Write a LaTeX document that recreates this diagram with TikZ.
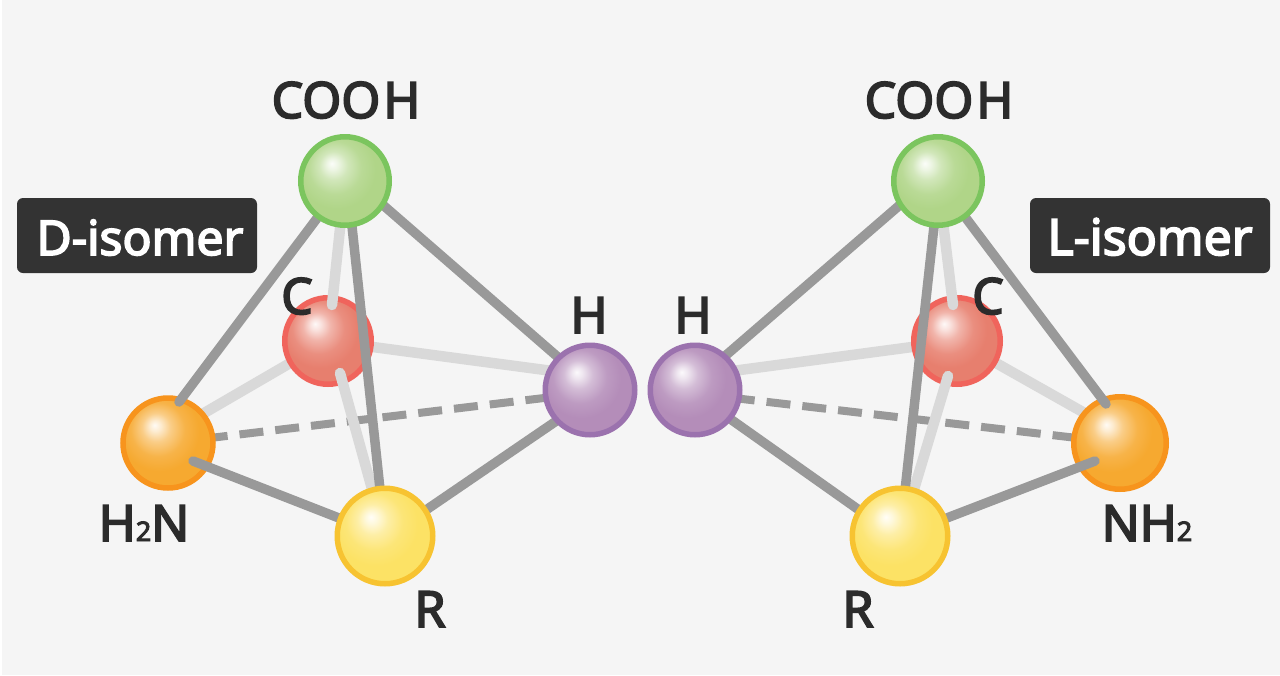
\documentclass[tikz,border=0pt]{standalone}
\usepackage{fontspec}
\setmainfont{Noto Sans}[FakeBold=3.5]
\definecolor{bgc}{HTML}{F5F5F5}
\definecolor{darkl}{HTML}{999999}
\definecolor{lightl}{HTML}{D9D9D9}
\definecolor{ink}{HTML}{2B2B2B}
\definecolor{boxc}{HTML}{333333}
\definecolor{grF}{HTML}{B0D588}\definecolor{grB}{HTML}{7BC55E}
\definecolor{reF}{HTML}{E77F6E}\definecolor{reB}{HTML}{F0645C}
\definecolor{orF}{HTML}{F6A930}\definecolor{orB}{HTML}{F7941D}
\definecolor{yeF}{HTML}{FCE265}\definecolor{yeB}{HTML}{F7C331}
\definecolor{puF}{HTML}{B48DB9}\definecolor{puB}{HTML}{9B72AE}
\newcommand{\mkball}[2]{\pgfdeclareradialshading{#1}{\pgfpoint{-7.5bp}{10bp}}{%
  color(0bp)=(white!95!#2); color(3bp)=(white!78!#2); color(8bp)=(white!42!#2); color(15bp)=(white!12!#2); color(22bp)=(#2); color(60bp)=(#2)}}
\mkball{ballgr}{grF}\mkball{ballre}{reF}\mkball{ballor}{orF}\mkball{ballye}{yeF}\mkball{ballpu}{puF}
\tikzset{
  atom/.style={circle,inner sep=0pt,outer sep=0pt,line width=5.5pt},
  darkbond/.style={draw=darkl,line width=9.5pt,line cap=round},
  lightbond/.style={draw=lightl,line width=10.5pt,line cap=round},
  dashbond/.style={draw=darkl,line width=8pt,dash pattern=on 24pt off 12pt},
  lab/.style={text=ink,font=\fontsize{50}{50}\selectfont,inner sep=0pt,anchor=base},
  tagbox/.style={fill=boxc,rounded corners=6pt,minimum width=240pt,minimum height=75pt,inner sep=0pt},
  tagtext/.style={text=white,font=\fontsize{50}{50}\selectfont,inner sep=0pt,anchor=base}
}
\newcommand{\sm}[1]{{\fontsize{27}{27}\selectfont #1}}
\begin{document}
\begin{tikzpicture}[x=1pt,y=-1pt]
\useasboundingbox (0,0) rectangle (1280,675);
\fill[white] (0,0) rectangle (1280,675);
\fill[bgc] (2,0) rectangle (1280,675);
% named anchor points
\coordinate (g1) at (345,181); \coordinate (r1) at (328,341); \coordinate (o1) at (168,443);
\coordinate (y1) at (385,536); \coordinate (p1) at (590,390);
\coordinate (g2) at (938,181); \coordinate (r2) at (957,341); \coordinate (o2) at (1120,443);
\coordinate (y2) at (900,536); \coordinate (p2) at (695,390);
% behind left
\path[lightbond] (328,341) -- (168,434);
\path[lightbond] (r1) -- (590,376);
\path[dashbond] (o1) -- (590,392.5);
% behind right
\path[lightbond] (r2) -- (1120,433);
\path[lightbond] (r2) -- (695,376);
\path[dashbond] (695,393.5) -- (o2);
% red atoms
\node[atom,draw=reB,shade,shading=ballre,minimum size=86.5pt] (redL) at (r1) {};
\node[atom,draw=reB,shade,shading=ballre,minimum size=86.5pt] (redR) at (r2) {};
% bonds over red
\coordinate (a1) at (332,305); \coordinate (a2) at (953,305);
\coordinate (b1) at (340,373); \coordinate (b2) at (948,376);
\coordinate (c1) at (351,217); \coordinate (c2) at (935,217);
\path[lightbond] (g1) -- (a1);
\path[lightbond] (g2) -- (a2);
\path[lightbond] (b1) -- (y1);
\path[lightbond] (b2) -- (y2);
\path[darkbond] (c1) -- (y1);
\path[darkbond] (c2) -- (y2);
% orange atoms
\node[atom,draw=orB,shade,shading=ballor,minimum size=90pt] (orL) at (o1) {};
\node[atom,draw=orB,shade,shading=ballor,minimum size=92.5pt] (orR) at (o2) {};
\coordinate (d1) at (179,402); \coordinate (d2) at (1106,404);
\coordinate (e1) at (193,461); \coordinate (e2) at (1095,461);
\path[darkbond] (g1) -- (d1);
\path[darkbond] (g2) -- (d2);
\path[darkbond] (e1) -- (y1);
\path[darkbond] (e2) -- (y2);
\path[darkbond] (345,172) -- (590,385);
\path[darkbond] (385,538) -- (590,398);
\path[darkbond] (938,172) -- (695,382);
\path[darkbond] (695,394) -- (900,539);
% front atoms
\node[atom,draw=grB,shade,shading=ballgr,minimum size=88.5pt] (greenL) at (g1) {};
\node[atom,draw=grB,shade,shading=ballgr,minimum size=88.5pt] (greenR) at (g2) {};
\node[atom,draw=yeB,shade,shading=ballye,minimum size=95.5pt] (yelL) at (y1) {};
\node[atom,draw=yeB,shade,shading=ballye,minimum size=95.5pt] (yelR) at (y2) {};
\node[atom,draw=puB,shade,shading=ballpu,minimum size=89.5pt] (purL) at (p1) {};
\node[atom,draw=puB,shade,shading=ballpu,minimum size=89.5pt] (purR) at (p2) {};
% labels
\node[lab] (t1) at (346,118) {COO\kern3pt H};
\node[lab] (t2) at (939,118) {COO\kern3pt H};
\node[lab] (t3) at (297,314) {C};
\node[lab] (t4) at (988,314) {C};
\node[lab] (t5) at (589,333) {H};
\node[lab] (t6) at (693,333) {H};
\node[lab] (t7) at (144,541) {H\sm{2}N};
\node[lab] (t8) at (1147,541) {NH\sm{2}};
\node[lab] (t9) at (430,627) {R};
\node[lab] (t10) at (858,627) {R};
\node[tagbox] (bL) at (137,235.5) {};
\node[tagbox] (bR) at (1150,235.5) {};
\node[tagtext,font=\fontsize{48}{48}\selectfont] (tL) at (140,255) {D-isomer};
\node[tagtext] (tR) at (1150,255) {L-isomer};
\end{tikzpicture}
\end{document}
